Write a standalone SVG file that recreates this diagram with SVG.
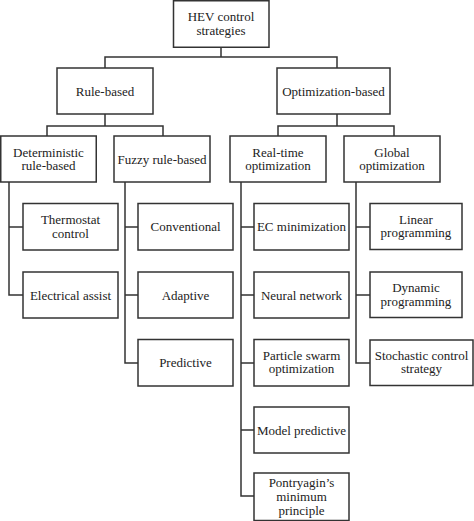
<svg xmlns="http://www.w3.org/2000/svg" width="474" height="521" viewBox="0 0 474 521">
<style>
rect.n{fill:#fff;stroke:#333;stroke-width:1.5}
text{font-family:"Liberation Serif","Times New Roman",serif;font-size:13px;fill:#222;text-anchor:middle}
#connectors path{fill:none;stroke:#333;stroke-width:1.5}
</style>
<rect width="474" height="521" fill="#fff"/>
<g id="connectors">
<path d="M221,47 V57 M105,68 V57 H337 V68"/>
<path d="M105,114 V126 M47,136 V126 H163 V136"/>
<path d="M337,114 V126 M278,136 V126 H394 V136"/>
<path d="M9,182 V295 H23 M9,227 H23"/>
<path d="M125,182 V363 H138 M125,227 H138 M125,295 H138"/>
<path d="M241,182 V496 H254 M241,227 H254 M241,295 H254 M241,363 H254 M241,430 H254"/>
<path d="M356,182 V363 H370 M356,227 H370 M356,295 H370"/>
</g>
<g id="root"><rect class="n" x="173.5" y="0.75" width="95.5" height="46.5"/><text x="221" y="21">HEV control</text><text x="221" y="35">strategies</text></g>
<g id="rule"><rect class="n" x="57" y="68" width="96" height="46"/><text x="105" y="95.5">Rule-based</text></g>
<g id="opt"><rect class="n" x="277" y="68" width="113" height="46"/><text x="333.5" y="95.5">Optimization-based</text></g>
<g id="det"><rect class="n" x="0.75" y="136" width="95.5" height="46"/><text x="48.5" y="156.5">Deterministic</text><text x="48.5" y="170">rule-based</text></g>
<g id="fuzzy"><rect class="n" x="114" y="136" width="96" height="46"/><text x="162" y="163.5">Fuzzy rule-based</text></g>
<g id="realtime"><rect class="n" x="230" y="136" width="96" height="46"/><text x="278" y="156.5">Real-time</text><text x="278" y="170">optimization</text></g>
<g id="global"><rect class="n" x="344" y="136" width="96" height="46"/><text x="392" y="156.5">Global</text><text x="392" y="170">optimization</text></g>
<g id="thermo"><rect class="n" x="23" y="203.5" width="95" height="46.5"/><text x="70.5" y="224">Thermostat</text><text x="70.5" y="237.5">control</text></g>
<g id="elec"><rect class="n" x="23" y="272" width="95" height="46"/><text x="70.5" y="299.5">Electrical assist</text></g>
<g id="conv"><rect class="n" x="138" y="203.5" width="95" height="46.5"/><text x="185.5" y="231">Conventional</text></g>
<g id="adapt"><rect class="n" x="138" y="272" width="95" height="46"/><text x="185.5" y="299.5">Adaptive</text></g>
<g id="pred"><rect class="n" x="138" y="339.5" width="95" height="46.5"/><text x="185.5" y="367">Predictive</text></g>
<g id="ec"><rect class="n" x="254" y="203.5" width="95" height="46.5"/><text x="301.5" y="231">EC minimization</text></g>
<g id="nn"><rect class="n" x="254" y="272" width="95" height="46"/><text x="301.5" y="299.5">Neural network</text></g>
<g id="pso"><rect class="n" x="254" y="339.5" width="95" height="46.5"/><text x="301.5" y="359.5">Particle swarm</text><text x="301.5" y="373">optimization</text></g>
<g id="mpc"><rect class="n" x="254" y="407" width="95" height="46"/><text x="301.5" y="434.5">Model predictive</text></g>
<g id="pmp"><rect class="n" x="254" y="473" width="95" height="47.5"/><text x="301.5" y="487">Pontryagin’s</text><text x="301.5" y="501">minimum</text><text x="301.5" y="515">principle</text></g>
<g id="lin"><rect class="n" x="370" y="203.5" width="92" height="46"/><text x="416" y="223.5">Linear</text><text x="416" y="237">programming</text></g>
<g id="dyn"><rect class="n" x="370" y="272" width="92" height="45.5"/><text x="416" y="292">Dynamic</text><text x="416" y="305.5">programming</text></g>
<g id="stoch"><rect class="n" x="370" y="340" width="103" height="45.5"/><text x="421.5" y="359.5">Stochastic control</text><text x="421.5" y="373">strategy</text></g>
</svg>
